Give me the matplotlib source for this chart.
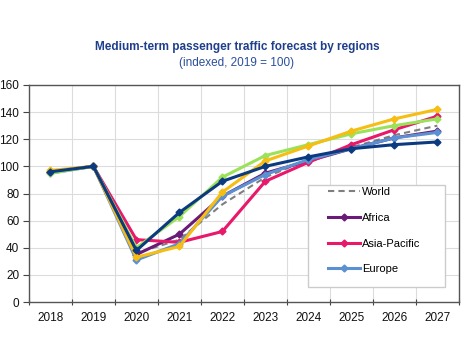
import matplotlib
matplotlib.use("Agg")
import matplotlib.pyplot as plt
from matplotlib.patches import Rectangle

plt.rcParams['font.family'] = ['Liberation Sans', 'DejaVu Sans']

years = ["2018", "2019", "2020", "2021", "2022", "2023", "2024", "2025", "2026", "2027"]
world = [96, 100, 36, 46, 72, 92, 105, 114, 123, 130]
africa = [96, 100, 35, 50, 78, 95, 104, 113, 121, 126]
asia_pacific = [96, 100, 46, 44, 52, 89, 103, 116, 127, 137]
europe = [95, 100, 31, 43, 78, 94, 105, 113, 121, 125]
green = [95, 100, 40, 63, 92, 108, 116, 124, 130, 135]
yellow = [97, 100, 33, 41, 81, 104, 115, 126, 135, 142]
navy = [96, 100, 38, 66, 89, 100, 107, 113, 116, 118]

fig = plt.figure(figsize=(4.74, 3.6), dpi=100)
ax = fig.add_axes([0.061, 0.161, 0.907, 0.603])
x = list(range(len(years)))

ax.plot(x, world, color="#7f7f7f", lw=1.5, ls=(0, (3, 2)), label="World", zorder=3)
ax.plot(x, africa, color="#6a1b78", lw=2.2, marker="D", ms=3.5, label="Africa", zorder=3)
ax.plot(x, asia_pacific, color="#e8186a", lw=2.2, marker="D", ms=3.5, label="Asia-Pacific", zorder=3)
ax.plot(x, europe, color="#5b90d2", lw=2.2, marker="D", ms=3.5, label="Europe", zorder=3)
ax.plot(x, green, color="#9be25a", lw=2.2, marker="D", ms=3.5, zorder=3)
ax.plot(x, yellow, color="#f6bd12", lw=2.2, marker="D", ms=3.5, zorder=3)
ax.plot(x, navy, color="#0b3a80", lw=2.2, marker="D", ms=3.5, zorder=4)

ax.set_xlim(-0.5, len(years) - 0.5)
ax.set_ylim(0, 160)
ax.set_yticks(range(0, 161, 20))
ax.set_xticks([i - 0.5 for i in range(len(years) + 1)])
ax.set_xticklabels([])
ax.set_xticks(x, minor=True)
ax.set_xticklabels(years, minor=True)
ax.tick_params(axis='x', which='minor', length=0, pad=7, labelsize=8.5, labelcolor="#111111")
ax.tick_params(axis='x', which='major', length=4, direction='inout', color="#444444")
ax.tick_params(axis='y', length=4, color="#444444", labelsize=8.5, direction='out', pad=3,
               labelcolor="#111111")
ax.grid(True, which='major', color="#dcdcdc", lw=0.8)
ax.set_axisbelow(True)
for s in ax.spines.values():
    s.set_color("#555555")
    s.set_linewidth(1.0)

# legend box
bx0, by0, bx1, by1 = 308 / 474, 1 - 287 / 360, 445 / 474, 1 - 185 / 360
ax.add_patch(Rectangle((bx0, by0), bx1 - bx0, by1 - by0, transform=fig.transFigure,
                       facecolor="white", edgecolor="#cccccc", lw=1.0, zorder=5,
                       clip_on=False))
leg = ax.legend(loc="upper left", bbox_to_anchor=(328 / 474, 1 - 187 / 360),
                bbox_transform=fig.transFigure, frameon=False,
                labelspacing=1.42, handlelength=2.9, fontsize=8, borderpad=0,
                handletextpad=0.2, borderaxespad=0)
leg.set_zorder(6)

fig.text(0.5, 1 - 47 / 360, "Medium-term passenger traffic forecast by regions",
         ha="center", va="center", fontsize=8.5, fontweight="bold", color="#1f3f8c")
fig.text(0.5, 1 - 63 / 360, "(indexed, 2019 = 100)",
         ha="center", va="center", fontsize=8.5, color="#2a4f9c")

fig.savefig("out.png", dpi=100)
